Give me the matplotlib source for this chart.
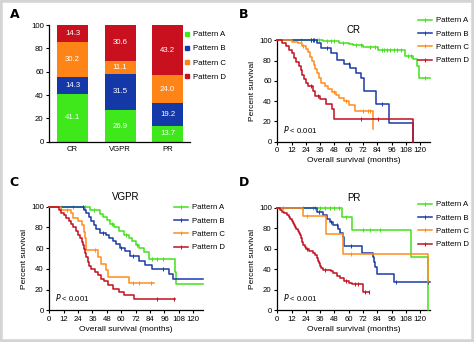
import matplotlib
matplotlib.use("Agg")
import matplotlib.pyplot as plt
from matplotlib import font_manager
from matplotlib.lines import Line2D
from matplotlib.patches import Rectangle
import numpy as np

names = {f.name for f in font_manager.fontManager.ttflist}
fam = 'Liberation Sans Narrow' if 'Liberation Sans Narrow' in names else 'Liberation Sans'
plt.rcParams['font.family'] = [fam, 'DejaVu Sans']

# ---------------- data ----------------
patterns = ['Pattern A', 'Pattern B', 'Pattern C', 'Pattern D']
colors = ['#3ee81a', '#1538a8', '#ff8418', '#c8101e']
line_colors = ['#44e01c', '#1a3aa8', '#ff8c1c', '#c2101f']

response = ['CR', 'VGPR', 'PR']
pct_A = [41.1, 26.9, 13.7]
pct_B = [14.3, 31.5, 19.2]
pct_C = [30.2, 11.1, 24.0]
pct_D = [14.3, 30.6, 43.2]

# CR KM curves (event times in months, survival % after event)
cr_A_t = [38, 52, 60, 64, 72, 85, 107, 114, 117, 119]
cr_A_s = [99, 97.5, 96, 95, 93, 90, 85, 82, 75, 63]
cr_A_cens = [20, 28, 33, 35, 42, 45, 48, 55, 66, 70, 78, 82, 88, 90, 92, 95, 98, 101, 104, 110, 112, 124]
cr_A_end = 128
cr_B_t = [33, 37, 45, 50, 56, 61, 66, 70, 73, 83, 94, 114]
cr_B_s = [97, 92, 87, 81, 77, 73, 68, 63, 50, 37, 18, 0]
cr_B_cens = [28, 30, 31, 42, 60, 88]
cr_B_end = 114
cr_C_t = [12, 17, 21, 24, 26, 27.5, 29, 30.5, 32, 33.5, 35, 37, 40, 43, 46, 49, 52, 56, 60, 65, 80]
cr_C_s = [98, 97, 94, 91, 88, 84, 80, 76, 72, 68, 63, 58, 55, 52, 49, 46, 43, 40, 36, 30, 13]
cr_C_cens = [22, 48, 58, 72, 76, 78]
cr_C_end = 80
cr_D_t = [4, 7, 9.5, 12, 14, 16, 18, 19.5, 21, 22.5, 24, 26, 30, 32, 36, 41, 46, 48, 114]
cr_D_s = [97, 94, 90, 87, 83, 79, 75, 71, 66, 62, 58, 55, 50, 45, 42, 37, 32, 22, 0]
cr_D_cens = [28, 34, 70, 85]
cr_D_end = 114

# VGPR KM curves
vg_A_t = [34, 42, 45, 48, 51, 54, 58, 62, 66, 69, 72, 75, 79, 83, 104.5, 106]
vg_A_s = [97, 93, 90, 87, 83, 80, 77, 73, 70, 67, 63, 60, 56, 50, 37, 25]
vg_A_cens = [10, 20, 30, 37, 52, 64, 73, 86, 90, 95]
vg_A_end = 128
vg_B_t = [29, 31, 33, 35, 37, 39, 42, 47, 50, 53, 56, 59, 63, 67, 75, 80, 86, 100, 103]
vg_B_s = [97, 94, 90, 86, 82, 78, 75, 73, 70, 67, 64, 60, 57, 52, 48, 44, 40, 35, 30]
vg_B_cens = [28, 45, 60, 70, 95]
vg_B_end = 128
vg_C_t = [10, 18, 20, 24, 27, 29, 30, 31, 41, 43, 47, 49, 66]
vg_C_s = [97, 94, 89, 86, 82, 76, 70, 58, 51, 45, 39, 32, 26]
vg_C_cens = [15, 38, 70, 75, 85]
vg_C_end = 87
vg_D_t = [8, 10, 12, 14, 16, 18, 20, 22, 24, 26, 27, 28, 29, 30, 31, 32, 33, 35, 38, 41, 43, 46, 49, 53, 58, 62, 71]
vg_D_s = [97, 94, 92, 89, 86, 83, 80, 77, 73, 70, 66, 63, 59, 55, 51, 47, 43, 40, 37, 34, 30, 28, 24, 21, 18, 15, 11]
vg_D_cens = [90, 104]
vg_D_end = 105

# PR KM curves
pr_A_t = [54, 63, 112, 127]
pr_A_s = [91, 78, 52, 0]
pr_A_cens = [5, 22, 30, 32, 36, 40, 44, 48, 52, 58, 72, 78, 86]
pr_A_end = 127
pr_B_t = [33, 38, 42, 44, 47, 51, 53, 55, 56, 71, 80, 81, 82, 84, 98]
pr_B_s = [96, 93, 89, 86, 83, 79, 75, 71, 63, 56, 52, 47, 42, 35, 28]
pr_B_cens = [35, 45, 50, 62, 100, 127]
pr_B_end = 128
pr_C_t = [21.5, 41, 55, 127]
pr_C_s = [92, 74, 55, 28]
pr_C_cens = [25, 62]
pr_C_end = 127
pr_D_t = [2, 4, 6, 8, 10, 11, 12, 13, 14, 15, 16, 17, 18, 19, 20, 21, 22, 23, 24, 27, 30, 32, 33, 34, 35, 36, 37, 38, 45, 47, 50, 53, 56, 60, 63, 72]
pr_D_s = [98, 96, 95, 93, 91, 89, 87, 85, 83, 81, 79, 77, 75, 73, 70, 67, 64, 62, 60, 58, 56, 54, 51, 48, 46, 43, 41, 39, 38, 36, 33, 31, 29, 27, 26, 18]
pr_D_cens = [25, 40, 58, 65, 68, 74, 77]
pr_D_end = 77

x_ticks = list(range(0, 121, 12))
y_ticks = list(range(0, 101, 20))

# ---------------- figure ----------------
W, H = 474, 342
fig = plt.figure(figsize=(W / 100, H / 100), dpi=100)
fig.patch.set_facecolor('white')

def ax_px(l, r, b, t):
    return fig.add_axes([l / W, 1 - b / H, (r - l) / W, (b - t) / H])

FS = 5.6

def style(ax):
    for s in ['top', 'right']:
        ax.spines[s].set_visible(False)
    for s in ['left', 'bottom']:
        ax.spines[s].set_linewidth(0.9)
    ax.tick_params(axis='both', labelsize=FS, length=2.5, width=0.8, pad=1.5, direction='out')

# Panel A
axA = ax_px(49.3, 190, 141.7, 25)
style(axA)
xpos = np.arange(len(response))
bottom = np.zeros(3)
for vals, c in zip([pct_A, pct_B, pct_C, pct_D], colors):
    axA.bar(xpos, vals, bottom=bottom, width=0.65, color=c, edgecolor='none')
    for xi, (v, b0) in enumerate(zip(vals, bottom)):
        axA.text(xi, b0 + v / 2, f"{v:.1f}", ha='center', va='center', color='white', fontsize=FS)
    bottom = bottom + np.array(vals)
axA.set_xlim(-0.49, 2.47)
axA.set_ylim(0, 100)
axA.set_yticks(y_ticks)
axA.set_xticks(xpos)
axA.set_xticklabels(response)
axA.tick_params(axis='x', length=0, pad=3)
handlesA = [Line2D([], [], marker='s', linestyle='none', color=c, markersize=3) for c in colors]
axA.legend(handlesA, patterns, loc='upper left', bbox_to_anchor=(184 / W, 1 - 31 / H),
           bbox_transform=fig.transFigure, frameon=False, fontsize=FS,
           handlelength=0.8, handletextpad=0.4, labelspacing=0.85, borderpad=0, borderaxespad=0)

def km(ax, curves, title, legend_xy):
    style(ax)
    for (t, s, cens, end), c in zip(curves, line_colors):
        tt = [0] + list(t) + [end]
        ss = [100] + list(s) + [s[-1]]
        ax.step(tt, ss, where='post', color=c, lw=1.1, clip_on=False, zorder=3)
        tarr = np.array([0] + list(t))
        sarr = np.array([100] + list(s))
        cy = [sarr[np.searchsorted(tarr, ct, side='right') - 1] for ct in cens]
        ax.plot(cens, cy, linestyle='none', marker='|', markersize=2.6, markeredgewidth=0.7,
                color=c, clip_on=False, zorder=3)
    ax.set_xlim(0, 128)
    ax.set_ylim(0, 100)
    ax.set_xticks(x_ticks)
    ax.set_yticks(y_ticks)
    ax.set_xlabel('Overall survival (months)', fontsize=FS + 0.4, labelpad=2)
    ax.set_ylabel('Percent survival', fontsize=FS + 0.4, labelpad=2)
    ax.set_title(title, fontsize=FS + 1.4, pad=5)
    ax.text(5, 12, r'$P$ < 0.001', fontsize=FS, ha='left', va='center')
    handles = [Line2D([], [], color=c, lw=1.1, marker='|', markersize=2.6, markeredgewidth=0.7)
               for c in line_colors]
    ax.legend(handles, patterns, loc='upper left', bbox_to_anchor=legend_xy,
              bbox_transform=fig.transFigure, frameon=False, fontsize=FS, numpoints=1,
              handlelength=1.8, handletextpad=0.5, labelspacing=0.75, borderpad=0, borderaxespad=0)

axB = ax_px(277.3, 277.3 + 128 * 1.19, 141.7, 40.3)
km(axB, [(cr_A_t, cr_A_s, cr_A_cens, cr_A_end), (cr_B_t, cr_B_s, cr_B_cens, cr_B_end),
         (cr_C_t, cr_C_s, cr_C_cens, cr_C_end), (cr_D_t, cr_D_s, cr_D_cens, cr_D_end)],
   'CR', (418 / W, 1 - 17 / H))

axC = ax_px(49.3, 49.3 + 128 * 1.2, 310.3, 206.7)
km(axC, [(vg_A_t, vg_A_s, vg_A_cens, vg_A_end), (vg_B_t, vg_B_s, vg_B_cens, vg_B_end),
         (vg_C_t, vg_C_s, vg_C_cens, vg_C_end), (vg_D_t, vg_D_s, vg_D_cens, vg_D_end)],
   'VGPR', (174 / W, 1 - 204 / H))

axD = ax_px(277.3, 277.3 + 128 * 1.19, 310.3, 207.7)
km(axD, [(pr_A_t, pr_A_s, pr_A_cens, pr_A_end), (pr_B_t, pr_B_s, pr_B_cens, pr_B_end),
         (pr_C_t, pr_C_s, pr_C_cens, pr_C_end), (pr_D_t, pr_D_s, pr_D_cens, pr_D_end)],
   'PR', (418 / W, 1 - 201 / H))

# panel letters
for lab, x, y in [('A', 10, 14), ('B', 239, 14), ('C', 9, 183), ('D', 239, 183)]:
    fig.text(x / W, 1 - y / H, lab, fontsize=9, fontweight='bold', ha='left', va='center',
             family=['DejaVu Sans'])

# light grey frame
fig.add_artist(Rectangle((0, 0), 1, 1, transform=fig.transFigure, fill=False,
                         edgecolor='#d4d4d4', lw=4))

fig.savefig('out.png', dpi=100, facecolor='white')
